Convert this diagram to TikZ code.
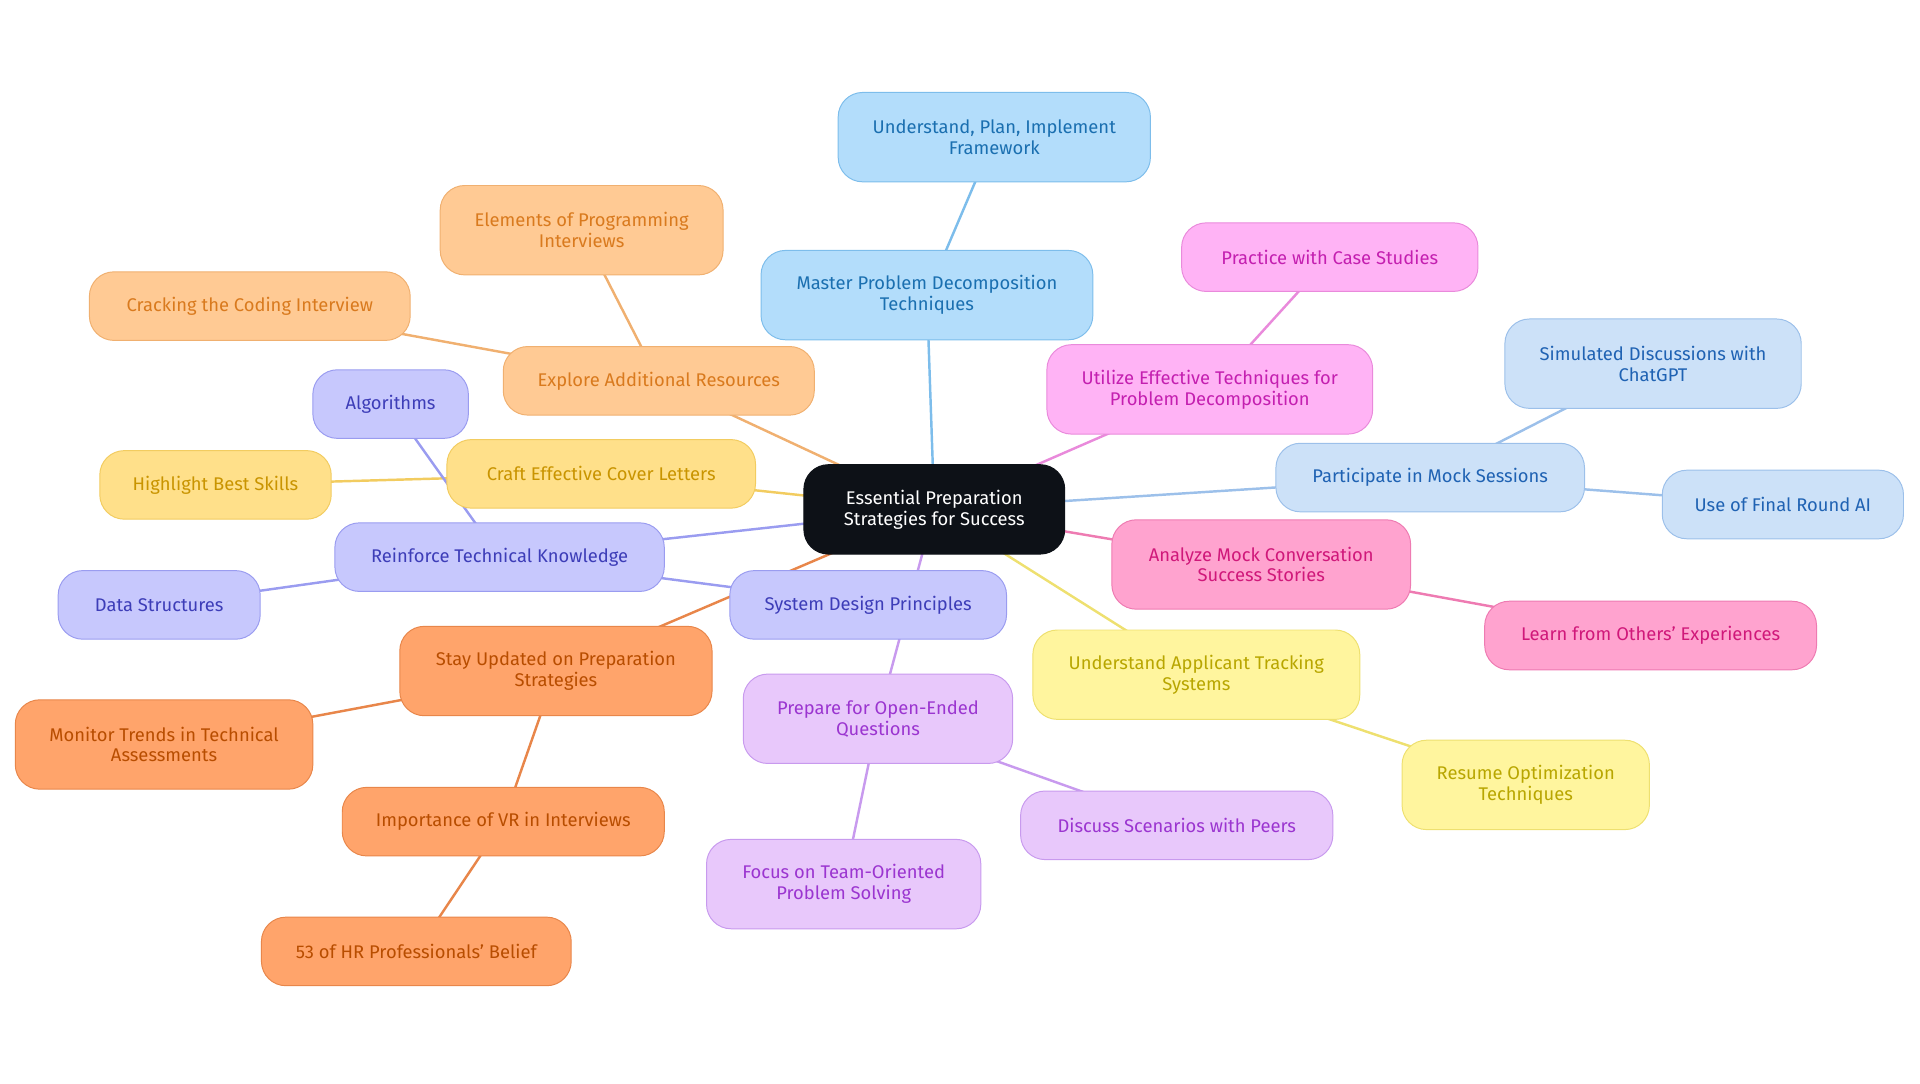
\documentclass[tikz,border=0pt]{standalone}
\usepackage{fontspec}
\setmainfont{Fira Sans}
\usetikzlibrary{backgrounds}
\definecolor{bA}{HTML}{B3DDFB}\definecolor{dA}{HTML}{7DBDEB}\definecolor{tA}{HTML}{1A6FB0}
\definecolor{bO}{HTML}{FFCA94}\definecolor{dO}{HTML}{F0B070}\definecolor{tO}{HTML}{D97A1E}
\definecolor{bP}{HTML}{FFB3F5}\definecolor{dP}{HTML}{E98ADB}\definecolor{tP}{HTML}{C41FB0}
\definecolor{bB}{HTML}{CCE1F8}\definecolor{dB}{HTML}{9CC0EA}\definecolor{tB}{HTML}{1F62B3}
\definecolor{bL}{HTML}{C7C8FD}\definecolor{dL}{HTML}{9A9CF0}\definecolor{tL}{HTML}{3D3DB8}
\definecolor{bY}{HTML}{FFE08A}\definecolor{dY}{HTML}{F2CC60}\definecolor{tY}{HTML}{C99400}
\definecolor{bK}{HTML}{FFA3CF}\definecolor{dK}{HTML}{EE7BB2}\definecolor{tK}{HTML}{D0187A}
\definecolor{bV}{HTML}{FFF59E}\definecolor{dV}{HTML}{EEE070}\definecolor{tV}{HTML}{B8A600}
\definecolor{bR}{HTML}{FFA46B}\definecolor{dR}{HTML}{E8864A}\definecolor{tR}{HTML}{B84D00}
\definecolor{bU}{HTML}{E8C8FB}\definecolor{dU}{HTML}{C89AEE}\definecolor{tU}{HTML}{9B35D0}
\definecolor{cen}{HTML}{0D1117}
\tikzset{
 box/.style={rounded corners=20pt,line width=0.8pt,align=center,inner sep=2pt,
   font=\fontsize{15}{17}\selectfont},
 cA/.style={box,fill=bA,draw=dA,text=tA}, eA/.style={draw=dA,line width=2pt},
 cO/.style={box,fill=bO,draw=dO,text=tO}, eO/.style={draw=dO,line width=2pt},
 cP/.style={box,fill=bP,draw=dP,text=tP}, eP/.style={draw=dP,line width=2pt},
 cB/.style={box,fill=bB,draw=dB,text=tB}, eB/.style={draw=dB,line width=2pt},
 cL/.style={box,fill=bL,draw=dL,text=tL}, eL/.style={draw=dL,line width=2pt},
 cY/.style={box,fill=bY,draw=dY,text=tY}, eY/.style={draw=dY,line width=2pt},
 cK/.style={box,fill=bK,draw=dK,text=tK}, eK/.style={draw=dK,line width=2pt},
 cV/.style={box,fill=bV,draw=dV,text=tV}, eV/.style={draw=dV,line width=2pt},
 cR/.style={box,fill=bR,draw=dR,text=tR}, eR/.style={draw=dR,line width=2pt},
 cU/.style={box,fill=bU,draw=dU,text=tU}, eU/.style={draw=dU,line width=2pt},
}
\newcommand{\bx}[7]{\node[#1,minimum width=#4pt,minimum height=#5pt] (#2) at (#3) {#6};}
\begin{document}
\begin{tikzpicture}[x=1pt,y=-1pt]
\useasboundingbox (0,0) rectangle (1568,885);
\node[box,fill=cen,draw=cen,text=white,minimum width=213pt,minimum height=73pt] (c) at (763,416) {Essential Preparation\\Strategies for Success};
\bx{cA}{upi}{812,112}{255}{73}{Understand, Plan, Implement\\Framework}{}
\bx{cA}{mpd}{757,241}{271}{73}{Master Problem Decomposition\\Techniques}{}
\bx{cO}{epi}{475,188}{231}{73}{Elements of Programming\\Interviews}{}
\bx{cO}{ctc}{204,250}{262}{56}{Cracking the Coding Interview}{}
\bx{cO}{ear}{538,311}{254}{56}{Explore Additional Resources}{}
\bx{cP}{pcs}{1086,210}{242}{56}{Practice with Case Studies}{}
\bx{cP}{ute}{988,318}{266}{73}{Utilize Effective Techniques for\\Problem Decomposition}{}
\bx{cB}{sdc}{1350,297}{242}{73}{Simulated Discussions with\\ChatGPT}{}
\bx{cB}{pms}{1168,390}{252}{56}{Participate in Mock Sessions}{}
\bx{cB}{ufr}{1456,412}{197}{56}{Use of Final Round AI}{}
\bx{cL}{alg}{319,330}{127}{56}{Algorithms}{}
\bx{cY}{hbs}{176,396}{189}{56}{Highlight Best Skills}{}
\bx{cY}{ccl}{491,387}{252}{56}{Craft Effective Cover Letters}{}
\bx{cL}{rtk}{408,455}{269}{56}{Reinforce Technical Knowledge}{}
\bx{cL}{dst}{130,494}{165}{56}{Data Structures}{}
\bx{cL}{sdp}{709,494}{226}{56}{System Design Principles}{}
\bx{cK}{amc}{1030,461}{244}{73}{Analyze Mock Conversation\\Success Stories}{}
\bx{cK}{lfo}{1348,519}{271}{56}{Learn from Others' Experiences}{}
\bx{cV}{uat}{977,551}{267}{73}{Understand Applicant Tracking\\Systems}{}
\bx{cV}{rot}{1246,641}{202}{73}{Resume Optimization\\Techniques}{}
\bx{cR}{sup}{454,548}{255}{73}{Stay Updated on Preparation\\Strategies}{}
\bx{cR}{mtt}{134,608}{243}{73}{Monitor Trends in Technical\\Assessments}{}
\bx{cR}{ivr}{411,671}{263}{56}{Importance of VR in Interviews}{}
\bx{cR}{hrp}{340,777}{253}{56}{53 of HR Professionals' Belief}{}
\bx{cU}{poq}{717,587}{220}{73}{Prepare for Open-Ended\\Questions}{}
\bx{cU}{dsp}{961,674}{255}{56}{Discuss Scenarios with Peers}{}
\bx{cU}{fto}{689,722}{224}{73}{Focus on Team-Oriented\\Problem Solving}{}
\begin{scope}[on background layer]
\draw[eA] (c.center)--(mpd.center) (mpd.center)--(upi.center);
\draw[eO] (c.center)--(ear.center) (ear.center)--(epi.center) (ear.center)--(ctc.center);
\draw[eP] (c.center)--(ute.center) (ute.center)--(pcs.center);
\draw[eB] (c.center)--(pms.center) (pms.center)--(sdc.center) (pms.center)--(ufr.center);
\draw[eY] (c.center)--(ccl.center) (ccl.center)--(hbs.center);
\draw[eL] (c.center)--(rtk.center) (rtk.center)--(alg.center) (rtk.center)--(dst.center) (rtk.center)--(sdp.center);
\draw[eU] (c.center)--(poq.center) (poq.center)--(dsp.center) (poq.center)--(fto.center);
\draw[eK] (c.center)--(amc.center) (amc.center)--(lfo.center);
\draw[eV] (c.center)--(uat.center) (uat.center)--(rot.center);
\draw[eR] (c.center)--(sup.center) (sup.center)--(mtt.center) (sup.center)--(ivr.center) (ivr.center)--(hrp.center);
\end{scope}
\end{tikzpicture}
\end{document}
